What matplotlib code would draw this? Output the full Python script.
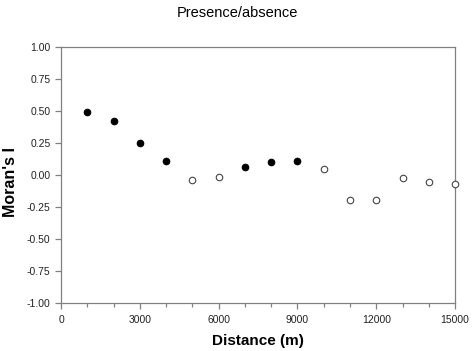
import matplotlib
matplotlib.use("Agg")
import matplotlib.pyplot as plt
from matplotlib.ticker import MultipleLocator

plt.rcParams['font.family'] = ['Liberation Sans', 'DejaVu Sans']

distance = [1000, 2000, 3000, 4000, 5000, 6000, 7000, 8000, 9000, 10000,
            11000, 12000, 13000, 14000, 15000]
morans_i = [0.49, 0.424, 0.252, 0.109, -0.042, -0.018, 0.062, 0.099, 0.109,
            0.044, -0.195, -0.198, -0.023, -0.057, -0.068]
significant = [True, True, True, True, False, False, True, True, True,
               False, False, False, False, False, False]

x_ticks = [0, 3000, 6000, 9000, 12000, 15000]
y_ticks = [-1.00, -0.75, -0.50, -0.25, 0.00, 0.25, 0.50, 0.75, 1.00]

fig = plt.figure(figsize=(4.74, 3.51), dpi=100)
ax = fig.add_axes([0.1287, 0.1368, 0.8313, 0.7293])

sx = [d for d, s in zip(distance, significant) if s]
sy = [m for m, s in zip(morans_i, significant) if s]
nx = [d for d, s in zip(distance, significant) if not s]
ny = [m for m, s in zip(morans_i, significant) if not s]

ax.scatter(sx, sy, s=22, facecolor='black', edgecolor='black', linewidth=0.8, zorder=3, clip_on=False)
ax.scatter(nx, ny, s=22, facecolor='white', edgecolor='#444444', linewidth=0.8, zorder=3, clip_on=False)

ax.set_xlim(0, 15000)
ax.set_ylim(-1, 1)
ax.set_xticks(x_ticks)
ax.set_xticklabels([str(v) for v in x_ticks])
ax.xaxis.set_minor_locator(MultipleLocator(1000))
ax.set_yticks(y_ticks)
ax.set_yticklabels([f"{v:.2f}" for v in y_ticks])

for sp in ax.spines.values():
    sp.set_color('#808080')
    sp.set_linewidth(0.9)

ax.tick_params(axis='both', which='both', direction='out', color='#808080', width=0.9,
               labelsize=7.5, labelcolor='#222222', top=False, right=False)
ax.tick_params(axis='both', which='major', length=4)
ax.tick_params(axis='x', which='minor', length=3)
ax.tick_params(axis='x', which='major', pad=5)

ax.set_xlabel('Distance (m)', fontsize=11, fontweight='bold', labelpad=6)
ax.set_ylabel("Moran's I", fontsize=11.5, fontweight='bold')
ax.yaxis.set_label_coords(-0.11, 0.473)
fig.text(0.5, 0.962, 'Presence/absence', ha='center', va='center', fontsize=10.5)

fig.savefig('out.png', dpi=100)
